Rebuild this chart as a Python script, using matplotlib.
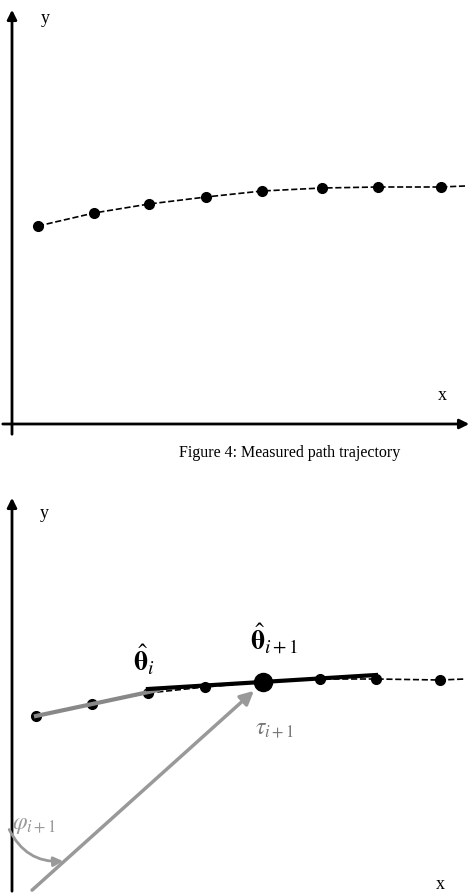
import matplotlib
matplotlib.use("Agg")
import matplotlib.pyplot as plt
from matplotlib.patches import FancyArrowPatch

plt.rcParams['font.family'] = ['Liberation Serif', 'DejaVu Serif']
plt.rcParams['mathtext.fontset'] = 'stix'

# measured points, top panel (pixel-like coordinates, y down)
top_x = [38, 94, 149, 206, 262, 322, 378, 441]
top_y = [227, 214, 205, 198, 192, 189, 188, 188]
# bottom panel
bot_x = [36, 92, 148, 205, 263, 320, 376, 440]
bot_y = [717, 705, 694, 688, 683, 680, 680, 681]

fig = plt.figure(figsize=(4.74, 8.95), dpi=100)
ax = fig.add_axes([0, 0, 1, 1])
ax.set_xlim(0, 474)
ax.set_ylim(895, 0)
ax.axis('off')

def arrow(x0, y0, x1, y1, color='black', lw=2, ms=14, **kw):
    ax.add_patch(FancyArrowPatch((x0, y0), (x1, y1), arrowstyle='-|>',
                                 mutation_scale=ms, color=color, lw=lw, **kw))

# top panel axes
arrow(12, 438, 12, 8)
arrow(0, 425, 472, 425)
ax.text(45, 18, 'y', fontsize=13, ha='center', va='center')
ax.text(442, 395, 'x', fontsize=13, ha='center', va='center')
ax.plot(top_x + [465], top_y + [187], 'k--', lw=1.2)
ax.plot(top_x, top_y, 'ko', ms=7)
ax.text(290, 453, 'Figure 4: Measured path trajectory', fontsize=11.5, ha='center', va='center')

# bottom panel axes
arrow(12, 895, 12, 496)
ax.text(44, 513, 'y', fontsize=13, ha='center', va='center')
ax.text(440, 885, 'x', fontsize=13, ha='center', va='center')
ax.plot(bot_x + [465], bot_y + [680], 'k--', lw=1.2)
ax.plot(bot_x, bot_y, 'ko', ms=7)
ax.plot(bot_x[4], bot_y[4], 'ko', ms=13)
ax.plot([bot_x[0], bot_x[2] + 10], [bot_y[0], bot_y[2] - 3], color='#888888', lw=3)
ax.plot([bot_x[2], bot_x[6]], [bot_y[2] - 4, bot_y[6] - 4], color='black', lw=3)
arrow(30, 893, 256, 690, color='#999999', lw=2.5, ms=20)
ax.add_patch(FancyArrowPatch((8, 828), (66, 862), connectionstyle='arc3,rad=0.35',
                             arrowstyle='-|>', mutation_scale=14, color='#999999', lw=2))
ax.text(12, 826, r'$\varphi_{i+1}$', fontsize=17, color='#999999', va='center')
ax.text(255, 730, r'$\tau_{i+1}$', fontsize=17, color='#777777', va='center')
ax.text(133, 660, r'$\hat{\mathbf{\theta}}_{i}$', fontsize=20, va='center')
ax.text(250, 638, r'$\hat{\mathbf{\theta}}_{i+1}$', fontsize=20, va='center')

fig.savefig('out.png', dpi=100)
